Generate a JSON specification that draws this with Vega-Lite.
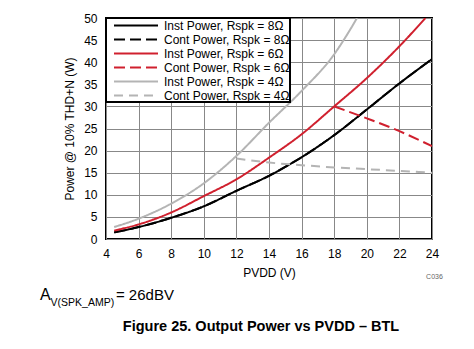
{
  "$schema": "https://vega.github.io/schema/vega-lite/v6.json",
  "width": 326,
  "height": 221,
  "autosize": {"type": "none"},
  "padding": {"left": 106, "top": 18, "right": 42, "bottom": 110},
  "background": "white",
  "config": {
    "font": "Liberation Sans",
    "view": {"stroke": "black", "strokeWidth": 2},
    "axis": {
      "labelFont": "Liberation Sans",
      "labelFontSize": 12,
      "labelColor": "black",
      "labelOverlap": false,
      "labelFlush": false,
      "titleFont": "Liberation Sans",
      "titleFontSize": 12,
      "titleFontWeight": "normal",
      "titleColor": "black",
      "ticks": false,
      "domain": false,
      "grid": true,
      "gridColor": "#888888",
      "gridWidth": 1,
      "gridOpacity": 1
    },
    "legend": {
      "labelFont": "Liberation Sans",
      "labelFontSize": 12,
      "labelColor": "black",
      "strokeColor": "black",
      "strokeWidth": 2,
      "fillColor": "white",
      "padding": 0,
      "rowPadding": -0.7,
      "symbolType": "M-3.385,0H3.385",
      "symbolSize": 169,
      "symbolOffset": 22.5,
      "labelOffset": 20.5,
      "labelLimit": 300
    }
  },
  "datasets": {
    "curves": [
      {"series": "Inst Power, Rspk = 8Ω", "v": 4.5, "p": 1.5},
      {"series": "Inst Power, Rspk = 8Ω", "v": 6, "p": 2.7},
      {"series": "Inst Power, Rspk = 8Ω", "v": 8, "p": 4.8},
      {"series": "Inst Power, Rspk = 8Ω", "v": 10, "p": 7.4},
      {"series": "Inst Power, Rspk = 8Ω", "v": 12, "p": 10.9},
      {"series": "Inst Power, Rspk = 8Ω", "v": 14, "p": 14.3},
      {"series": "Inst Power, Rspk = 8Ω", "v": 16, "p": 18.5},
      {"series": "Inst Power, Rspk = 8Ω", "v": 18, "p": 23.5},
      {"series": "Inst Power, Rspk = 8Ω", "v": 20, "p": 29.3},
      {"series": "Inst Power, Rspk = 8Ω", "v": 22, "p": 35.2},
      {"series": "Inst Power, Rspk = 8Ω", "v": 24, "p": 40.7},
      {"series": "Cont Power, Rspk = 8Ω", "v": 4.5, "p": 1.5},
      {"series": "Cont Power, Rspk = 8Ω", "v": 6, "p": 2.7},
      {"series": "Cont Power, Rspk = 8Ω", "v": 8, "p": 4.8},
      {"series": "Cont Power, Rspk = 8Ω", "v": 10, "p": 7.4},
      {"series": "Cont Power, Rspk = 8Ω", "v": 12, "p": 10.9},
      {"series": "Cont Power, Rspk = 8Ω", "v": 14, "p": 14.3},
      {"series": "Cont Power, Rspk = 8Ω", "v": 16, "p": 18.5},
      {"series": "Cont Power, Rspk = 8Ω", "v": 18, "p": 23.5},
      {"series": "Cont Power, Rspk = 8Ω", "v": 20, "p": 29.3},
      {"series": "Cont Power, Rspk = 8Ω", "v": 22, "p": 35.2},
      {"series": "Cont Power, Rspk = 8Ω", "v": 24, "p": 40.7},
      {"series": "Inst Power, Rspk = 6Ω", "v": 4.5, "p": 1.9},
      {"series": "Inst Power, Rspk = 6Ω", "v": 6, "p": 3.3},
      {"series": "Inst Power, Rspk = 6Ω", "v": 8, "p": 6.0},
      {"series": "Inst Power, Rspk = 6Ω", "v": 10, "p": 9.7},
      {"series": "Inst Power, Rspk = 6Ω", "v": 12, "p": 13.5},
      {"series": "Inst Power, Rspk = 6Ω", "v": 14, "p": 18.4},
      {"series": "Inst Power, Rspk = 6Ω", "v": 16, "p": 23.7},
      {"series": "Inst Power, Rspk = 6Ω", "v": 18, "p": 30.0},
      {"series": "Inst Power, Rspk = 6Ω", "v": 20, "p": 36.4},
      {"series": "Inst Power, Rspk = 6Ω", "v": 22, "p": 43.6},
      {"series": "Inst Power, Rspk = 6Ω", "v": 23.6, "p": 50},
      {"series": "Cont Power, Rspk = 6Ω", "v": 18, "p": 30.0},
      {"series": "Cont Power, Rspk = 6Ω", "v": 20, "p": 27.3},
      {"series": "Cont Power, Rspk = 6Ω", "v": 22, "p": 24.4},
      {"series": "Cont Power, Rspk = 6Ω", "v": 24, "p": 21.0},
      {"series": "Inst Power, Rspk = 4Ω", "v": 4.5, "p": 2.7},
      {"series": "Inst Power, Rspk = 4Ω", "v": 6, "p": 4.6},
      {"series": "Inst Power, Rspk = 4Ω", "v": 8, "p": 8.0},
      {"series": "Inst Power, Rspk = 4Ω", "v": 10, "p": 12.6},
      {"series": "Inst Power, Rspk = 4Ω", "v": 12, "p": 18.8},
      {"series": "Inst Power, Rspk = 4Ω", "v": 14, "p": 26.3},
      {"series": "Inst Power, Rspk = 4Ω", "v": 16, "p": 33.5},
      {"series": "Inst Power, Rspk = 4Ω", "v": 18, "p": 41.8},
      {"series": "Inst Power, Rspk = 4Ω", "v": 19, "p": 47.5},
      {"series": "Inst Power, Rspk = 4Ω", "v": 19.4, "p": 50},
      {"series": "Cont Power, Rspk = 4Ω", "v": 12, "p": 18.2},
      {"series": "Cont Power, Rspk = 4Ω", "v": 14, "p": 17.3},
      {"series": "Cont Power, Rspk = 4Ω", "v": 16, "p": 16.7},
      {"series": "Cont Power, Rspk = 4Ω", "v": 18, "p": 16.2},
      {"series": "Cont Power, Rspk = 4Ω", "v": 20, "p": 15.8},
      {"series": "Cont Power, Rspk = 4Ω", "v": 22, "p": 15.4},
      {"series": "Cont Power, Rspk = 4Ω", "v": 24, "p": 15.0}
    ],
    "notes": [
      {"label": "A", "kind": "big", "v": -0.05, "p": -13.9},
      {"label": "V(SPK_AMP)", "kind": "sub", "v": 0.6, "p": -15.15},
      {"label": "= 26dBV", "kind": "main", "v": 4.61, "p": -13.9},
      {"label": "Figure 25. Output Power vs PVDD – BTL", "kind": "title", "v": 13.51, "p": -20.8},
      {"label": "C036", "kind": "code", "v": 24.15, "p": -8.6}
    ]
  },
  "encoding": {
    "x": {
      "field": "v", "type": "quantitative",
      "scale": {"domain": [4, 24], "nice": false, "zero": false},
      "axis": {"title": "PVDD (V)", "values": [4, 6, 8, 10, 12, 14, 16, 18, 20, 22, 24], "labelPadding": 9, "titlePadding": 8}
    },
    "y": {
      "field": "p", "type": "quantitative",
      "scale": {"domain": [0, 50], "nice": false},
      "axis": {"title": "Power @ 10% THD+N (W)", "values": [0, 5, 10, 15, 20, 25, 30, 35, 40, 45, 50], "labelPadding": 9, "titlePadding": 7}
    }
  },
  "layer": [
    {
      "data": {"name": "curves"},
      "mark": {"type": "line", "interpolate": "monotone", "clip": true},
      "encoding": {
        "color": {
          "field": "series", "type": "nominal",
          "scale": {
            "domain": ["Inst Power, Rspk = 8Ω", "Cont Power, Rspk = 8Ω", "Inst Power, Rspk = 6Ω", "Cont Power, Rspk = 6Ω", "Inst Power, Rspk = 4Ω", "Cont Power, Rspk = 4Ω"],
            "range": ["#000000", "#000000", "#d0202e", "#d0202e", "#b4b4b4", "#b4b4b4"]
          },
          "legend": {"title": null, "orient": "none", "legendX": 0, "legendY": 0, "labelExpr": "datum.label + '   '"}
        },
        "strokeDash": {
          "field": "series", "type": "nominal",
          "scale": {
            "domain": ["Inst Power, Rspk = 8Ω", "Cont Power, Rspk = 8Ω", "Inst Power, Rspk = 6Ω", "Cont Power, Rspk = 6Ω", "Inst Power, Rspk = 4Ω", "Cont Power, Rspk = 4Ω"],
            "range": [[1, 0], [11, 5], [1, 0], [11, 5], [1, 0], [9, 6]]
          },
          "legend": {"title": null, "orient": "none", "legendX": 0, "legendY": 0, "labelExpr": "datum.label + '   '"}
        },
        "strokeWidth": {
          "field": "series", "type": "nominal",
          "scale": {
            "domain": ["Inst Power, Rspk = 8Ω", "Cont Power, Rspk = 8Ω", "Inst Power, Rspk = 6Ω", "Cont Power, Rspk = 6Ω", "Inst Power, Rspk = 4Ω", "Cont Power, Rspk = 4Ω"],
            "range": [2, 2, 2, 2, 1.5, 1.5]
          },
          "legend": {"title": null, "orient": "none", "legendX": 0, "legendY": 0, "labelExpr": "datum.label + '   '"}
        }
      }
    },
    {
      "data": {"name": "notes"},
      "transform": [{"filter": "datum.kind === 'big'"}],
      "mark": {"type": "text", "align": "left", "baseline": "alphabetic", "fontSize": 16, "font": "Liberation Sans", "color": "black"},
      "encoding": {"text": {"field": "label"}}
    },
    {
      "data": {"name": "notes"},
      "transform": [{"filter": "datum.kind === 'main'"}],
      "mark": {"type": "text", "align": "left", "baseline": "alphabetic", "fontSize": 15, "font": "Liberation Sans", "color": "black"},
      "encoding": {"text": {"field": "label"}}
    },
    {
      "data": {"name": "notes"},
      "transform": [{"filter": "datum.kind === 'sub'"}],
      "mark": {"type": "text", "align": "left", "baseline": "alphabetic", "fontSize": 10.5, "font": "Liberation Sans", "color": "black"},
      "encoding": {"text": {"field": "label"}}
    },
    {
      "data": {"name": "notes"},
      "transform": [{"filter": "datum.kind === 'title'"}],
      "mark": {"type": "text", "align": "center", "baseline": "alphabetic", "fontSize": 14.5, "fontWeight": "bold", "font": "Liberation Sans", "color": "black"},
      "encoding": {"text": {"field": "label"}}
    },
    {
      "data": {"name": "notes"},
      "transform": [{"filter": "datum.kind === 'code'"}],
      "mark": {"type": "text", "align": "center", "baseline": "middle", "fontSize": 7, "font": "Liberation Sans", "color": "#666666"},
      "encoding": {"text": {"field": "label"}}
    }
  ]
}
